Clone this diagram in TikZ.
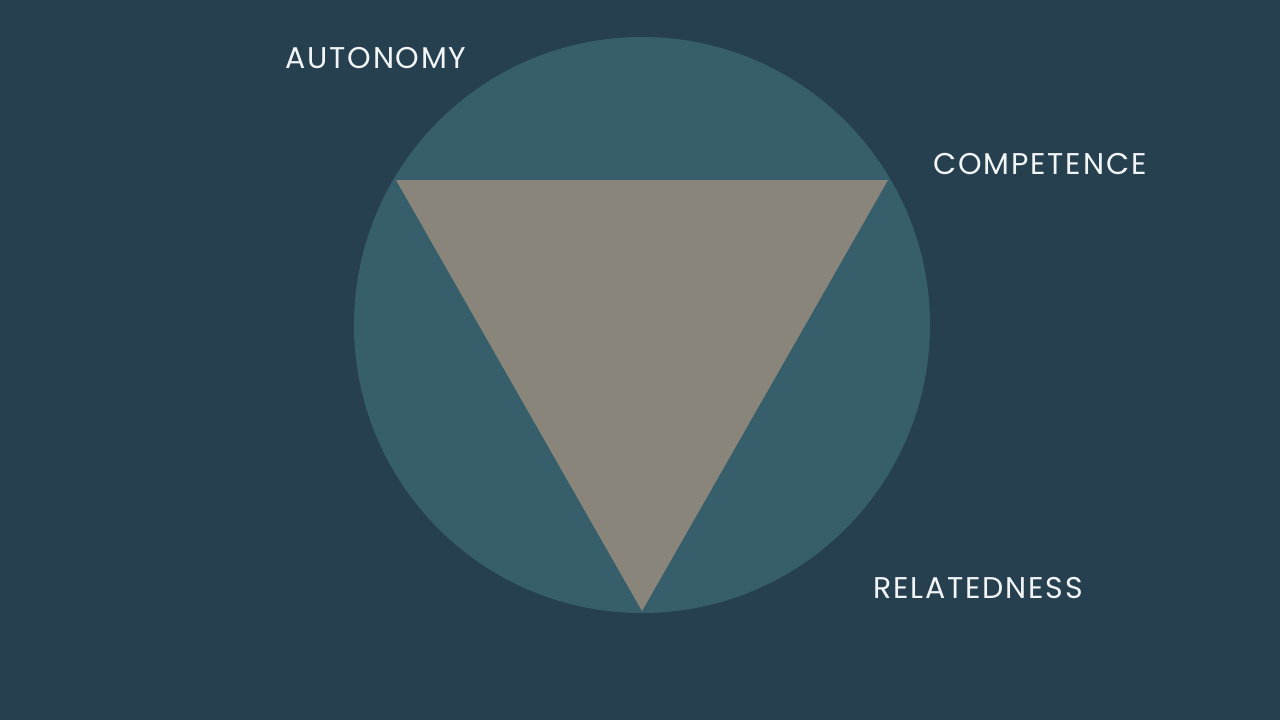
\documentclass[tikz,border=0pt]{standalone}
\usepackage{fontspec}
\setmainfont{Poppins}
\newfontfamily\labelfont[LetterSpace=6]{Poppins}
\usepackage{tikz}
\usetikzlibrary{calc}

\definecolor{bgblue}{HTML}{27404F}
\definecolor{ringteal}{HTML}{365F6B}
\definecolor{wedgegray}{HTML}{8A857A}
\definecolor{labelwhite}{HTML}{F2F5F6}

\tikzset{
  need/.style={text=labelwhite, font=\labelfont\fontsize{30}{32}\selectfont, inner sep=0pt}
}

\begin{document}
\begin{tikzpicture}[x=1pt, y=1pt]

\fill[bgblue] (0,0) rectangle (1280,-720);
\useasboundingbox (0,0) rectangle (1280,-720);

% the ring
\coordinate (centre) at (642,-325);
\fill[ringteal] (centre) circle (288);

% corners of the triangle
\coordinate (aut) at (396,-180);
\coordinate (com) at (888,-180);
\coordinate (rel) at (642,-611);
\fill[wedgegray] (aut) -- (com) -- (rel) -- cycle;

% labels
\node[need] (lblaut) at (376,-58) {AUTONOMY};
\node[need] (lblcom) at (1040,-164) {COMPETENCE};
\node[need] (lblrel) at (978,-588) {RELATEDNESS};

\end{tikzpicture}
\end{document}
